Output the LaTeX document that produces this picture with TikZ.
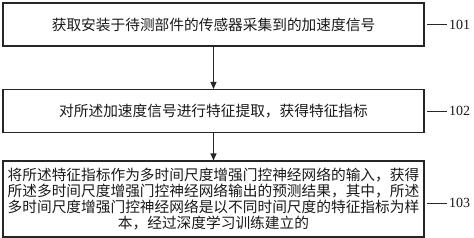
\documentclass[tikz,border=0pt]{standalone}
\usepackage{fontspec}
\setmainfont{Liberation Serif}
\newfontfamily\cjk{Noto Sans CJK SC}
\usetikzlibrary{arrows.meta}
\begin{document}
\begin{tikzpicture}[x=1pt,y=-1pt,
  box/.style={draw=black!85, line width=1.1pt, minimum width=421pt, inner sep=0pt,
    font=\cjk\fontsize{14.7}{16.3}\selectfont, align=center, text=black!90},
  arr/.style={-{Triangle[length=7pt,width=6pt]}, line width=1.1pt, draw=black!85},
  tagline/.style={line width=1pt, draw=black!85},
  tag/.style={font=\fontsize{14}{14}\selectfont, anchor=west, inner sep=1.5pt, text=black!90}]
\useasboundingbox (0,0) rectangle (474,238);
\node[box, minimum height=43pt] (b1) at (213.5,24.5) {获取安装于待测部件的传感器采集到的加速度信号};
\node[box, minimum height=42.5pt] (b2) at (213.5,110.8) {对所述加速度信号进行特征提取，获得特征指标};
\node[box, minimum height=76pt] (b3) at (213.5,199) {将所述特征指标作为多时间尺度增强门控神经网络的输入，获得\\所述多时间尺度增强门控神经网络输出的预测结果，其中，所述\\多时间尺度增强门控神经网络是以不同时间尺度的特征指标为样\\本，经过深度学习训练建立的};
\draw[arr] (b1.south) -- (b2.north);
\draw[arr] (b2.south) -- (b3.north);
\coordinate (t1a) at (427,25); \coordinate (t1b) at (447,25);
\coordinate (t2a) at (427,111); \coordinate (t2b) at (447,111);
\coordinate (t3a) at (427,203); \coordinate (t3b) at (447,203);
\draw[tagline] (t1a) -- (t1b) node[tag] (n1) {101};
\draw[tagline] (t2a) -- (t2b) node[tag] (n2) {102};
\draw[tagline] (t3a) -- (t3b) node[tag] (n3) {103};
\end{tikzpicture}
\end{document}
